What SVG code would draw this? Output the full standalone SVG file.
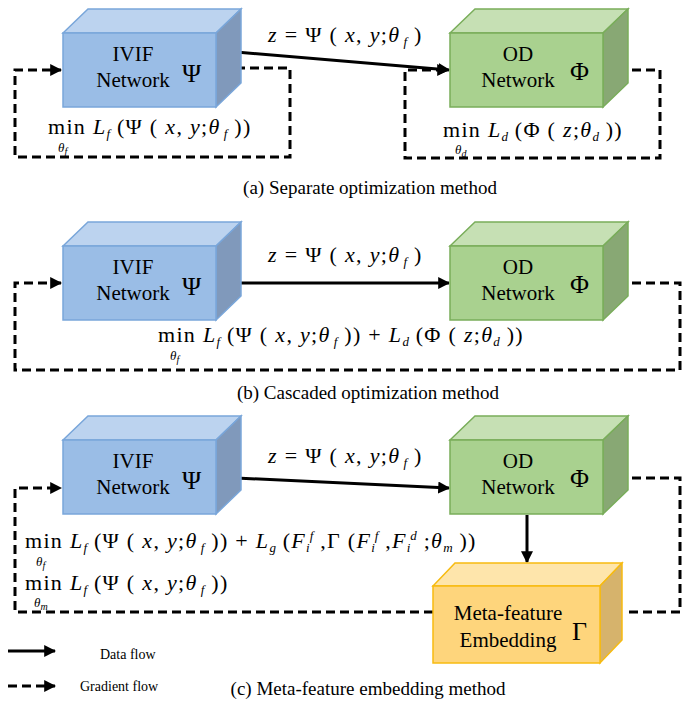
<svg xmlns="http://www.w3.org/2000/svg" width="693" height="704" viewBox="0 0 693 704" font-family="'Liberation Serif','Times New Roman',Times,serif">
<style>
text{font-family:'Liberation Serif','Times New Roman',Times,serif;fill:#000}
.bt{font-size:21px;text-anchor:middle}
.gl{font-size:26px}
.m{font-size:22px;letter-spacing:1.3px}
.i{font-style:italic}
.s{font-size:13px;font-style:italic;letter-spacing:0}
.cap{font-size:19px;text-anchor:middle}
.sol{stroke:#000;stroke-width:3;fill:none}
.dash{stroke:#000;stroke-width:3;fill:none;stroke-dasharray:9 5}
.bf{fill:#9abde6;stroke:#79a6da;stroke-width:1.5}.btp{fill:#bcd3ef;stroke:#79a6da;stroke-width:1.5}.bs{fill:#8099bb;stroke:#79a6da;stroke-width:1.5}
.gf{fill:#a9d18f;stroke:#79ad5a;stroke-width:1.5}.gt{fill:#c6e0b4;stroke:#79ad5a;stroke-width:1.5}.gs{fill:#88a874;stroke:#79ad5a;stroke-width:1.5}
.of{fill:#fed57c;stroke:#f7bb10;stroke-width:1.5}.ot{fill:#fee5ab;stroke:#f7bb10;stroke-width:1.5}.os{fill:#d6b36c;stroke:#f7bb10;stroke-width:1.5}
</style>
<defs>
<marker id="ah" viewBox="0 0 10 10" refX="9" refY="5" markerWidth="4" markerHeight="4" orient="auto" markerUnits="strokeWidth"><path d="M0,0L10,5L0,10z" fill="#000"/></marker>
<g id="bbox"><polygon class="btp" points="0,24 25,0 178,0 153,24"/><polygon class="bs" points="153,24 178,0 178,74 153,98"/><rect class="bf" x="0" y="24" width="153" height="74"/></g>
<g id="gbox"><polygon class="gt" points="0,24 25,0 178,0 153,24"/><polygon class="gs" points="153,24 178,0 178,74 153,98"/><rect class="gf" x="0" y="24" width="153" height="74"/></g>
</defs>

<g id="connectors">
<path class="sol" d="M236,52 L449,70" marker-end="url(#ah)"/>
<path class="dash" d="M236,68 H290 V157 H15 V70 H61" marker-end="url(#ah)"/>
<path class="dash" d="M604,70 H660 V158 H405 V70 H448" marker-end="url(#ah)"/>
<path class="sol" d="M236,283 H449" marker-end="url(#ah)"/>
<path class="dash" d="M604,283 H680 V370 H15 V283 H61" marker-end="url(#ah)"/>
<path class="sol" d="M236,478 L449,488" marker-end="url(#ah)"/>
<path class="dash" d="M604,478 H680 V612 H624 M433,612 H15 V488 H61" marker-end="url(#ah)"/>
<path class="sol" d="M527,515 V562" marker-end="url(#ah)"/>
<path class="sol" d="M8,651 H55" marker-end="url(#ah)"/>
<path class="dash" d="M8,686 H55" marker-end="url(#ah)"/>
</g>

<g id="ivif-a"><use href="#bbox" x="63" y="9"/><text class="bt" x="133" y="61">IVIF</text><text class="bt" x="133" y="87">Network</text><text class="gl" x="182" y="82">Ψ</text></g>
<g id="od-a"><use href="#gbox" x="450" y="9"/><text class="bt" x="518" y="61">OD</text><text class="bt" x="518" y="87">Network</text><text class="gl" x="570" y="80">Φ</text></g>
<g id="ivif-b"><use href="#bbox" x="63" y="222"/><text class="bt" x="133" y="274">IVIF</text><text class="bt" x="133" y="300">Network</text><text class="gl" x="182" y="295">Ψ</text></g>
<g id="od-b"><use href="#gbox" x="450" y="222"/><text class="bt" x="518" y="274">OD</text><text class="bt" x="518" y="300">Network</text><text class="gl" x="570" y="293">Φ</text></g>
<g id="ivif-c"><use href="#bbox" x="63" y="416"/><text class="bt" x="133" y="468">IVIF</text><text class="bt" x="133" y="494">Network</text><text class="gl" x="182" y="489">Ψ</text></g>
<g id="od-c"><use href="#gbox" x="450" y="416"/><text class="bt" x="518" y="468">OD</text><text class="bt" x="518" y="494">Network</text><text class="gl" x="570" y="487">Φ</text></g>
<g id="meta"><polygon class="ot" points="433,586 455,563 622,563 600,586"/><polygon class="os" points="600,586 622,563 622,640 600,663"/><rect class="of" x="433" y="586" width="167" height="77"/>
<text class="bt" x="508" y="620">Meta-feature</text><text class="bt" x="508" y="647">Embedding</text><text class="gl" x="572" y="640">Γ</text></g>

<g id="labels">
<text class="m" x="268" y="42"><tspan class="i">z</tspan> = Ψ ( <tspan class="i">x</tspan>, <tspan class="i">y</tspan>;<tspan class="i">θ</tspan><tspan class="s" dy="4"> f</tspan><tspan dy="-4"> )</tspan></text>
<text class="m" x="268" y="262"><tspan class="i">z</tspan> = Ψ ( <tspan class="i">x</tspan>, <tspan class="i">y</tspan>;<tspan class="i">θ</tspan><tspan class="s" dy="4"> f</tspan><tspan dy="-4"> )</tspan></text>
<text class="m" x="268" y="463"><tspan class="i">z</tspan> = Ψ ( <tspan class="i">x</tspan>, <tspan class="i">y</tspan>;<tspan class="i">θ</tspan><tspan class="s" dy="4"> f</tspan><tspan dy="-4"> )</tspan></text>

<text class="m" x="48" y="134">min <tspan class="i">L</tspan><tspan class="s" dy="4">f</tspan><tspan dy="-4"> (Ψ ( <tspan class="i">x</tspan>, <tspan class="i">y</tspan>;<tspan class="i">θ</tspan></tspan><tspan class="s" dy="4"> f</tspan><tspan dy="-4"> ))</tspan></text>
<text class="s" x="58" y="152">θ<tspan dy="3" font-size="10">f</tspan></text>

<text class="m" x="443" y="137">min <tspan class="i">L</tspan><tspan class="s" dy="4">d</tspan><tspan dy="-4"> (Φ ( <tspan class="i">z</tspan>;<tspan class="i">θ</tspan></tspan><tspan class="s" dy="4">d</tspan><tspan dy="-4"> ))</tspan></text>
<text class="s" x="455" y="154">θ<tspan dy="3" font-size="10">d</tspan></text>

<text class="m" x="158" y="342">min <tspan class="i">L</tspan><tspan class="s" dy="4">f</tspan><tspan dy="-4"> (Ψ ( <tspan class="i">x</tspan>, <tspan class="i">y</tspan>;<tspan class="i">θ</tspan></tspan><tspan class="s" dy="4"> f</tspan><tspan dy="-4"> )) + <tspan class="i">L</tspan></tspan><tspan class="s" dy="4">d</tspan><tspan dy="-4"> (Φ ( <tspan class="i">z</tspan>;<tspan class="i">θ</tspan></tspan><tspan class="s" dy="4">d</tspan><tspan dy="-4"> ))</tspan></text>
<text class="s" x="170" y="360">θ<tspan dy="3" font-size="10">f</tspan></text>

<text class="m" x="25" y="548">min <tspan class="i">L</tspan><tspan class="s" dy="4">f</tspan><tspan dy="-4"> (Ψ ( <tspan class="i">x</tspan>, <tspan class="i">y</tspan>;<tspan class="i">θ</tspan></tspan><tspan class="s" dy="4"> f</tspan><tspan dy="-4"> )) + <tspan class="i">L</tspan></tspan><tspan class="s" dy="4">g</tspan><tspan dy="-4"> (<tspan class="i">F</tspan></tspan><tspan class="s" dy="4">i</tspan><tspan class="s" dy="-12">f</tspan><tspan dy="8"> ,Γ (<tspan class="i">F</tspan></tspan><tspan class="s" dy="4">i</tspan><tspan class="s" dy="-12">f</tspan><tspan dy="8"> ,<tspan class="i">F</tspan></tspan><tspan class="s" dy="4">i</tspan><tspan class="s" dy="-12">d</tspan><tspan dy="8"> ;<tspan class="i">θ</tspan></tspan><tspan class="s" dy="4">m</tspan><tspan dy="-4"> ))</tspan></text>
<text class="s" x="36" y="566">θ<tspan dy="3" font-size="10">f</tspan></text>

<text class="m" x="25" y="590">min <tspan class="i">L</tspan><tspan class="s" dy="4">f</tspan><tspan dy="-4"> (Ψ ( <tspan class="i">x</tspan>, <tspan class="i">y</tspan>;<tspan class="i">θ</tspan></tspan><tspan class="s" dy="4"> f</tspan><tspan dy="-4"> ))</tspan></text>
<text class="s" x="34" y="607">θ<tspan dy="3" font-size="10">m</tspan></text>

<text class="cap" x="370" y="194">(a)  Separate optimization method</text>
<text class="cap" x="368" y="399">(b) Cascaded optimization method</text>
<text class="cap" x="368" y="695">(c) Meta-feature embedding method</text>
<text x="100" y="659" font-size="14">Data flow</text>
<text x="80" y="691" font-size="14">Gradient flow</text>
</g>
</svg>
